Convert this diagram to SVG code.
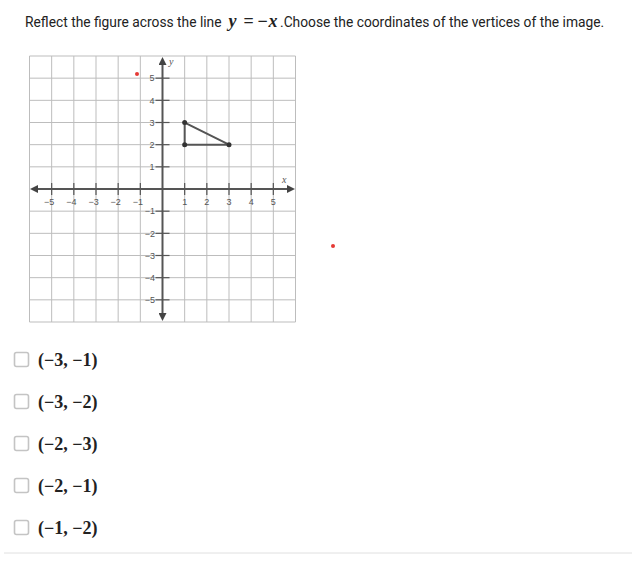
<svg xmlns="http://www.w3.org/2000/svg" width="644" height="573" viewBox="0 0 644 573">
<style>
.title{font-family:Roboto,"Liberation Sans",sans-serif;font-size:13.8px;fill:#222}
.math{font-family:"Liberation Serif",serif;font-weight:bold;font-style:italic;font-size:18px;fill:#222}
.mop{font-family:"Liberation Serif",serif;font-weight:bold;font-size:18px;fill:#222}
.grid line{stroke:#bdbdbd;stroke-width:1}
.axis{stroke:#555;stroke-width:2;fill:none}
.tick{stroke:#555;stroke-width:1.2}
.tl{font-family:"Liberation Sans",Arial,sans-serif;font-size:9px;fill:#555}
.al{font-family:"Liberation Serif",serif;font-style:italic;font-size:10px;fill:#555}
.box{fill:#fff;stroke:#c4c4c4;stroke-width:1.6}
.opt{font-family:"Liberation Serif",serif;font-weight:bold;font-size:18px;fill:#222}
</style>
<defs>
<marker id="ah" viewBox="0 0 10 10" refX="5" refY="5" markerWidth="4" markerHeight="4" orient="auto-start-reverse">
<path d="M0,0 L10,5 L0,10 z" fill="#444"/>
</marker>
</defs>
<rect width="644" height="573" fill="#fff"/>
<g id="title">
<text class="title" x="25" y="27">Reflect the figure across the line</text>
<text class="math" x="228.5" y="27">y</text>
<text class="mop" x="243.5" y="27">=</text>
<text class="mop" x="257.5" y="27">−</text>
<text class="math" x="268.5" y="27">x</text>
<text class="title" x="280" y="27">.Choose the coordinates of the vertices of the image.</text>
</g>

<g id="graph">
<g class="grid">
<line x1="29.5" y1="56" x2="29.5" y2="322"/>
<line x1="51.67" y1="56" x2="51.67" y2="322"/>
<line x1="73.83" y1="56" x2="73.83" y2="322"/>
<line x1="96" y1="56" x2="96" y2="322"/>
<line x1="118.17" y1="56" x2="118.17" y2="322"/>
<line x1="140.33" y1="56" x2="140.33" y2="322"/>
<line x1="184.67" y1="56" x2="184.67" y2="322"/>
<line x1="206.83" y1="56" x2="206.83" y2="322"/>
<line x1="229" y1="56" x2="229" y2="322"/>
<line x1="251.17" y1="56" x2="251.17" y2="322"/>
<line x1="273.33" y1="56" x2="273.33" y2="322"/>
<line x1="295.5" y1="56" x2="295.5" y2="322"/>
<line x1="29.5" y1="56" x2="295.5" y2="56"/>
<line x1="29.5" y1="78.17" x2="295.5" y2="78.17"/>
<line x1="29.5" y1="100.33" x2="295.5" y2="100.33"/>
<line x1="29.5" y1="122.5" x2="295.5" y2="122.5"/>
<line x1="29.5" y1="144.67" x2="295.5" y2="144.67"/>
<line x1="29.5" y1="166.83" x2="295.5" y2="166.83"/>
<line x1="29.5" y1="211.17" x2="295.5" y2="211.17"/>
<line x1="29.5" y1="233.33" x2="295.5" y2="233.33"/>
<line x1="29.5" y1="255.5" x2="295.5" y2="255.5"/>
<line x1="29.5" y1="277.67" x2="295.5" y2="277.67"/>
<line x1="29.5" y1="299.83" x2="295.5" y2="299.83"/>
<line x1="29.5" y1="322" x2="295.5" y2="322"/>
</g>
<g id="axes">
<line class="axis" x1="34" y1="189" x2="291" y2="189" marker-start="url(#ah)" marker-end="url(#ah)"/>
<line class="axis" x1="162.5" y1="61" x2="162.5" y2="317" marker-start="url(#ah)" marker-end="url(#ah)"/>
<g class="tick">
<line x1="51.67" y1="183" x2="51.67" y2="195"/>
<line x1="73.83" y1="183" x2="73.83" y2="195"/>
<line x1="96" y1="183" x2="96" y2="195"/>
<line x1="118.17" y1="183" x2="118.17" y2="195"/>
<line x1="140.33" y1="183" x2="140.33" y2="195"/>
<line x1="184.67" y1="183" x2="184.67" y2="195"/>
<line x1="206.83" y1="183" x2="206.83" y2="195"/>
<line x1="229" y1="183" x2="229" y2="195"/>
<line x1="251.17" y1="183" x2="251.17" y2="195"/>
<line x1="273.33" y1="183" x2="273.33" y2="195"/>
<line x1="155.5" y1="78.17" x2="169.5" y2="78.17"/>
<line x1="155.5" y1="100.33" x2="169.5" y2="100.33"/>
<line x1="155.5" y1="122.5" x2="169.5" y2="122.5"/>
<line x1="155.5" y1="144.67" x2="169.5" y2="144.67"/>
<line x1="155.5" y1="166.83" x2="169.5" y2="166.83"/>
<line x1="155.5" y1="211.17" x2="169.5" y2="211.17"/>
<line x1="155.5" y1="233.33" x2="169.5" y2="233.33"/>
<line x1="155.5" y1="255.5" x2="169.5" y2="255.5"/>
<line x1="155.5" y1="277.67" x2="169.5" y2="277.67"/>
<line x1="155.5" y1="299.83" x2="169.5" y2="299.83"/>
</g>
<g class="tl">
<text x="54.3" y="205" text-anchor="end">−5</text>
<text x="76.5" y="205" text-anchor="end">−4</text>
<text x="98.7" y="205" text-anchor="end">−3</text>
<text x="120.8" y="205" text-anchor="end">−2</text>
<text x="143" y="205" text-anchor="end">−1</text>
<text x="184.67" y="205" text-anchor="middle">1</text>
<text x="206.83" y="205" text-anchor="middle">2</text>
<text x="229" y="205" text-anchor="middle">3</text>
<text x="251.17" y="205" text-anchor="middle">4</text>
<text x="273.33" y="205" text-anchor="middle">5</text>
<text x="154.5" y="81.3" text-anchor="end">5</text>
<text x="154.5" y="103.5" text-anchor="end">4</text>
<text x="154.5" y="125.7" text-anchor="end">3</text>
<text x="154.5" y="147.8" text-anchor="end">2</text>
<text x="154.5" y="170" text-anchor="end">1</text>
<text x="155" y="214.3" text-anchor="end">−1</text>
<text x="155" y="236.5" text-anchor="end">−2</text>
<text x="155" y="258.7" text-anchor="end">−3</text>
<text x="155" y="280.8" text-anchor="end">−4</text>
<text x="155" y="303" text-anchor="end">−5</text>
</g>
<text class="al" x="169" y="65">y</text>
<text class="al" x="282" y="183">x</text>
</g>
<g id="triangle">
<polygon points="184.67,122.5 184.67,144.67 229,144.67" fill="none" stroke="#555" stroke-width="2"/>
<circle cx="184.67" cy="122.5" r="2.5" fill="#333"/>
<circle cx="184.67" cy="144.67" r="2.5" fill="#333"/>
<circle cx="229" cy="144.67" r="2.5" fill="#333"/>
</g>
</g>
<circle cx="137" cy="74" r="2" fill="#e53935"/>
<circle cx="333" cy="246" r="2" fill="#e53935"/>

<g id="opt1"><rect class="box" x="14.5" y="352.5" width="14" height="14" rx="2"/><text class="opt" x="38" y="365.5">(−3, −1)</text></g>
<g id="opt2"><rect class="box" x="14.5" y="394.5" width="14" height="14" rx="2"/><text class="opt" x="38" y="407.5">(−3, −2)</text></g>
<g id="opt3"><rect class="box" x="14.5" y="436.5" width="14" height="14" rx="2"/><text class="opt" x="38" y="449.5">(−2, −3)</text></g>
<g id="opt4"><rect class="box" x="14.5" y="478.5" width="14" height="14" rx="2"/><text class="opt" x="38" y="491.5">(−2, −1)</text></g>
<g id="opt5"><rect class="box" x="14.5" y="520.5" width="14" height="14" rx="2"/><text class="opt" x="38" y="533.5">(−1, −2)</text></g>
<line x1="4" y1="553" x2="632" y2="553" stroke="#e0e0e0" stroke-width="1"/>
</svg>
